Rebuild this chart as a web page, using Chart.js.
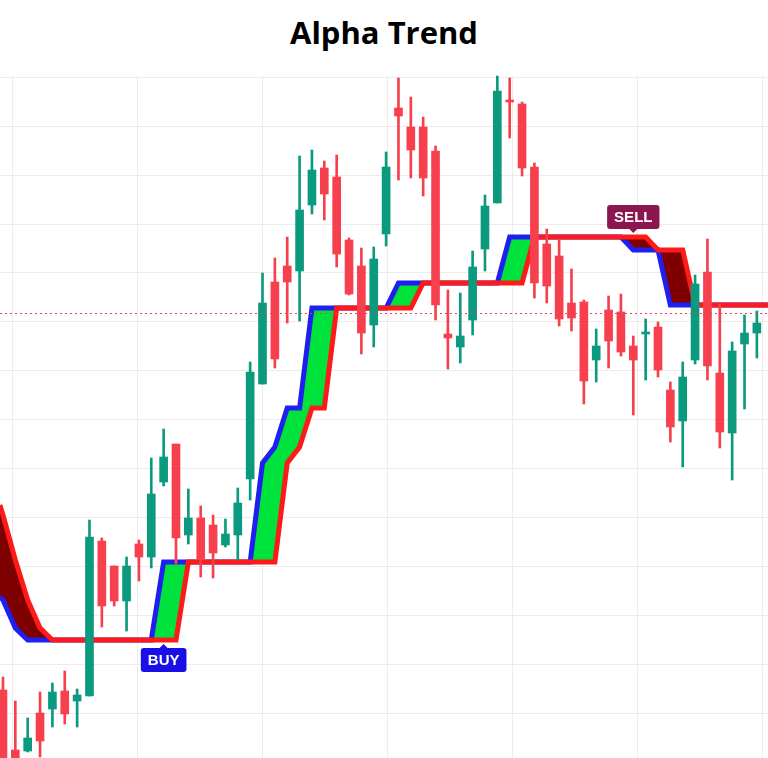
<!DOCTYPE html>
<html><head><meta charset="utf-8">
<script src="https://cdn.jsdelivr.net/npm/chart.js@4"></script>
<style>
html,body{margin:0;padding:0;background:#fff;width:768px;height:758px;overflow:hidden}
h1{margin:0;height:75px;box-sizing:border-box;padding-top:10px;line-height:44px;text-align:center;font-weight:bold;font-size:31px;font-family:"Open Sans",Lato,sans-serif;color:#000}
#w{position:relative;width:768px;height:683px}
</style></head><body>
<h1>Alpha Trend</h1>
<div id="w"><canvas id="c"></canvas></div>
<script>
const opens  = [68,8,7,45,49,67,57,62,217,192,157,214,201,276,314,223,240,233,213,223,279,374,476,492,487,553,590,581,518,492,433,524,650,631,631,607,424,411,438,509,555,657,654,591,514,502,455,456,398,448,446,412,424,431,368,337,398,486,385,325,414,425];
const closes = [0,0,20,17,66,44,63,221,152,157,192,201,264,301,220,240,199,205,224,255,386,455,399,476,548,588,564,504,464,425,499,591,642,608,580,453,420,422,491,552,667,656,590,475,472,439,440,377,412,417,406,398,425,388,331,381,474,392,326,407,425,435];
const highs  = [81,57,40,66,75,87,69,238,220,192,201,218,300,329,314,269,252,243,239,270,396,485,500,521,602,608,597,603,520,510,511,606,680,661,641,612,468,465,507,563,682,680,656,595,529,518,489,458,429,462,464,422,439,436,376,396,483,519,454,416,443,447];
const lows   = [0,0,6,1,31,34,31,62,131,152,127,177,190,272,194,214,181,180,211,198,258,374,390,435,437,544,538,491,463,404,411,512,578,580,562,438,389,395,423,487,555,620,582,460,455,432,427,354,376,390,402,343,378,381,316,291,394,378,310,278,349,400];
const alphaLine  = [158,130,118,118,118,118,118,118,118,118,118,118,118,196,196,196,196,196,196,196,196,295,311,350,350,450,450,450,450,450,450,450,475,475,475,475,475,475,475,475,475,521,521,521,521,521,521,521,521,521,521,508,508,508,453,453,453,453,453,453,453,453];
const signalLine = [243,198,158,130,118,118,118,118,118,118,118,118,118,118,118,196,196,196,196,196,196,196,196,295,311,350,350,450,450,450,450,450,450,450,475,475,475,475,475,475,475,475,475,521,521,521,521,521,521,521,521,521,521,508,508,508,453,453,453,453,453,453];
const lastPrice = 445;
const signals = [{label:'BUY', index:13, value:118, color:'#1a10e6', below:true},
                 {label:'SELL', index:51, value:521, color:'#8b1650', below:false}];

const UP='#0b9a7e', DN='#f7404e';
const isUp = opens.map((o,i)=>closes[i]>=o);
const bodies = opens.map((o,i)=>({x:i,y:[Math.min(o,closes[i]),Math.max(o,closes[i])]}));
const wicks = lows.map((l,i)=>({x:i,y:[l,highs[i]]}));
const cols = isUp.map(u=>u?UP:DN);
const lineA = [{x:-0.25,y:161}].concat(alphaLine.map((v,i)=>({x:i,y:v}))).concat([{x:62,y:alphaLine[61]}]);
const lineS = [{x:-0.25,y:253}].concat(signalLine.map((v,i)=>({x:i,y:v}))).concat([{x:62,y:signalLine[61]}]);

const overlay = {
  id:'overlay',
  afterDatasetsDraw(ch){
    const c=ch.ctx, xs=ch.scales.x, ys=ch.scales.y;
    c.save();
    c.strokeStyle='#f0404e'; c.lineWidth=1.2; c.setLineDash([2,3]);
    const py=Math.round(ys.getPixelForValue(lastPrice))+0.5;
    c.beginPath(); c.moveTo(ch.chartArea.left,py); c.lineTo(ch.chartArea.right,py); c.stroke();
    c.setLineDash([]);
    c.font='bold 15px "Liberation Sans Narrow","Liberation Sans", sans-serif'; c.textAlign='center'; c.textBaseline='middle';
    signals.forEach(s=>{
      const x=xs.getPixelForValue(s.index), y=ys.getPixelForValue(s.value);
      const w=c.measureText(s.label).width+14, h=24;
      const top = s.below ? y+8 : y-8-h;
      c.fillStyle=s.color;
      c.beginPath(); c.roundRect(x-w/2,top,w,h,3); c.fill();
      c.beginPath();
      if(s.below){c.moveTo(x-4,top);c.lineTo(x+4,top);c.lineTo(x,top-4);}
      else{c.moveTo(x-4,top+h);c.lineTo(x+4,top+h);c.lineTo(x,top+h+4);}
      c.fill();
      c.fillStyle='#fff'; c.fillText(s.label,x,top+h/2+1);
    });
    c.restore();
  }
};

new Chart(document.getElementById('c'),{
  type:'bar',
  data:{datasets:[
    {type:'line',data:lineA,borderColor:'#1f1ff0',borderWidth:5,pointRadius:0,tension:0,order:10,
     fill:{target:1,above:'#00e23c',below:'#7e0000'}},
    {type:'line',data:lineS,borderColor:'#ff1a1a',borderWidth:5,pointRadius:0,tension:0,order:9,fill:false},
    {data:wicks,backgroundColor:cols,barThickness:2,grouped:false,order:2},
    {data:bodies,backgroundColor:cols,barThickness:8,grouped:false,minBarLength:2,order:1}
  ]},
  options:{
    responsive:true,maintainAspectRatio:false,animation:false,
    layout:{padding:0},
    plugins:{legend:{display:false},tooltip:{enabled:false},title:{display:false}},
    scales:{
      x:{type:'linear',min:-0.24,max:61.9,offset:false,
         grid:{color:'#ececec',lineWidth:1,offset:false,drawTicks:false},border:{display:false},ticks:{display:false},
         afterFit(s){s.height=0;},
         afterBuildTicks(s){const t=[];for(let v=0.81;v<62;v+=10.11)t.push({value:v});s.ticks=t;}},
      y:{min:0,max:683,
         grid:{color:'#ececec',lineWidth:1,drawTicks:false},border:{display:false},ticks:{display:false},
         afterFit(s){s.width=0;},
         afterBuildTicks(s){const t=[];for(let v=45;v<683;v+=48.9)t.push({value:v});s.ticks=t;}}
    }
  },
  plugins:[overlay]
});
</script></body></html>
